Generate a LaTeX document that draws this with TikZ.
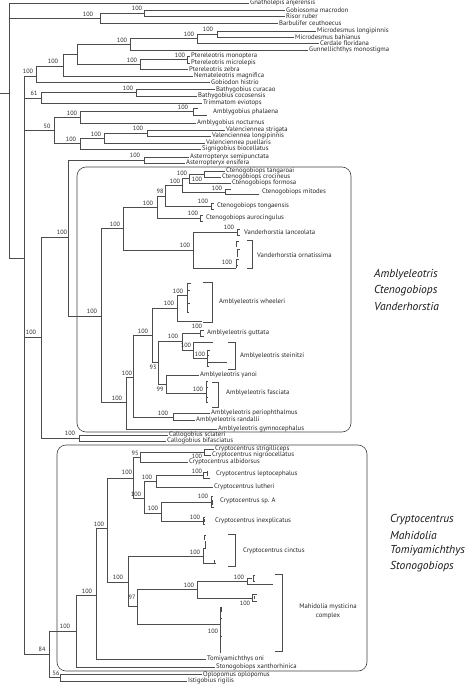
\documentclass[tikz,border=0pt]{standalone}
\usepackage{fontspec}
\setmainfont{PT Sans}
\newcommand\kid[2]{\draw[br] (#1 |- #2) -- (#2);}
\newcommand\vspan[3]{\draw[br] (#1 |- #2) -- (#1 |- #3);}
\begin{document}
\begin{tikzpicture}[x=1pt,y=-1pt,
  br/.style={draw=black!70,line width=0.55pt},
  tip/.style={anchor=west,inner sep=1pt,font=\fontsize{6.7}{7.5}\selectfont,text=black!85},
  ctr/.style={inner sep=0pt,font=\fontsize{6.7}{7.5}\selectfont,text=black!85},
  sup/.style={inner sep=0pt,font=\fontsize{6.2}{7}\selectfont,text=black!85},
  grp/.style={anchor=west,inner sep=0pt,font=\fontsize{11.5}{13}\selectfont\itshape,text=black!90},
  grpbox/.style={draw=black!75,line width=0.6pt,rounded corners=9pt}]
\useasboundingbox (0,0) rectangle (474,685);
% ---------- boxes ----------
\draw[grpbox] (77,167) rectangle (351,432);
\draw[grpbox] (57,445) rectangle (367,671);
\node[grp] (l1) at (374,275) {Amblyeleotris};
\node[grp] (l2) at (374,291) {Ctenogobiops};
\node[grp] (l3) at (374,306) {Vanderhorstia};
\node[grp] (l4) at (390,520) {Cryptocentrus};
\node[grp] (l5) at (390,535.5) {Mahidolia};
\node[grp] (l6) at (390,551) {Tomiyamichthys};
\node[grp] (l7) at (390,566.5) {Stonogobiops};
% ---------- root ----------
\coordinate (r0) at (0,93);
\coordinate (r) at (9,93);
\draw[br] (r0) -- (r);
\node[tip] (tGn) at (249,3) {Gnatholepis anjerensis};
\coordinate (g1) at (100,18);
\coordinate (g2) at (144,13);
\node[tip] (tGo) at (285,10) {Gobiosoma macrodon};
\node[tip] (tRi) at (285,16) {Risor ruber};
\node[tip] (tBa) at (278,23) {Barbulifer ceuthoecus};
\coordinate (ing) at (24,258);
\vspan{r}{tGn.west}{ing} \kid{r}{tGn.west} \kid{r}{g1} \kid{r}{ing}
\vspan{g1}{g2}{tBa.west} \kid{g1}{g2} \kid{g1}{tBa.west}
\vspan{g2}{tGo.west}{tRi.west} \kid{g2}{tGo.west} \kid{g2}{tRi.west}
\node[sup] (s1) at (88,14) {100};
\node[sup] (s2) at (137,8) {100};
% ---------- ingroup ----------
\coordinate (nA) at (36,76);
\coordinate (n61) at (41,98);
\coordinate (n50) at (54,130);
\coordinate (n41) at (41,337);
\coordinate (n84) at (49,654);
\vspan{ing}{nA}{n84} \kid{ing}{nA} \kid{ing}{n61} \kid{ing}{n50} \kid{ing}{n41} \kid{ing}{n84}
\node[sup] (sA) at (28,71) {100};
\node[sup] (s61) at (34,93) {61};
\node[sup] (s50) at (47,126) {50};
\node[sup] (s41) at (31,332) {100};
\node[sup] (s84) at (42,649) {84};
% clade A
\coordinate (nB) at (63,66);
\coordinate (nC) at (77,54);
\coordinate (nD) at (130,44);
\coordinate (nE) at (197,38.5);
\coordinate (nF) at (217,34.5);
\coordinate (nP1) at (140,64);
\coordinate (nP2) at (187,59.5);
\node[tip] (tMl) at (316,31) {Microdesmus longipinnis};
\node[tip] (tMb) at (294,37.5) {Microdesmus bahianus};
\node[tip] (tCe) at (319,43.5) {Cerdale floridana};
\node[tip] (tGu) at (308,50) {Gunnellichthys monostigma};
\node[tip] (tPm) at (190,56) {Ptereleotris monoptera};
\node[tip] (tPmi) at (190,63) {Ptereleotris microlepis};
\node[tip] (tPz) at (188,69) {Ptereleotris zebra};
\node[tip] (tNe) at (193,76) {Nemateleotris magnifica};
\node[tip] (tGob) at (210,82.5) {Gobiodon histrio};
\vspan{nA}{nB}{tGob.west} \kid{nA}{nB} \kid{nA}{tGob.west}
\vspan{nB}{nC}{tNe.west} \kid{nB}{nC} \kid{nB}{tNe.west}
\vspan{nC}{nD}{nP1} \kid{nC}{nD} \kid{nC}{nP1}
\vspan{nD}{nE}{tGu.west} \kid{nD}{nE} \kid{nD}{tGu.west}
\vspan{nE}{nF}{tCe.west} \kid{nE}{nF} \kid{nE}{tCe.west}
\vspan{nF}{tMl.west}{tMb.west} \kid{nF}{tMl.west} \kid{nF}{tMb.west}
\vspan{nP1}{nP2}{tPz.west} \kid{nP1}{nP2} \kid{nP1}{tPz.west}
\vspan{nP2}{tPm.west}{tPmi.west} \kid{nP2}{tPm.west} \kid{nP2}{tPmi.west}
\node[sup] (sB) at (53,61) {100};
\node[sup] (sD) at (122,40) {100};
\node[sup] (sE) at (189,34) {100};
\node[sup] (sF) at (208,29.5) {100};
\node[sup] (sP1) at (132,60) {100};
\node[sup] (sP2) at (180,55.5) {100};
% clade 61
\coordinate (nBat) at (136,92.5);
\node[tip] (tBc) at (215,89.5) {Bathygobius curacao};
\node[tip] (tBco) at (197,96) {Bathygobius cocosensis};
\node[tip] (tTr) at (202,103) {Trimmatom eviotops};
\vspan{n61}{nBat}{tTr.west} \kid{n61}{nBat} \kid{n61}{tTr.west}
\vspan{nBat}{tBc.west}{tBco.west} \kid{nBat}{tBc.west} \kid{nBat}{tBco.west}
\node[sup] (sBat) at (128,88) {100};
% clade 50
\coordinate (nAmb) at (80,117);
\coordinate (nAph) at (193,111.5);
\coordinate (ap1) at (198,108);
\coordinate (ap2) at (207,115);
\node[tip] (tAph) at (212,112) {Amblygobius phalaena};
\node[tip] (tNoc) at (196,123) {Amblygobius nocturnus};
\coordinate (nVal) at (80,143.5);
\coordinate (nV2) at (104,138);
\coordinate (nV3) at (147,133);
\node[tip] (tVs) at (225,130) {Valenciennea strigata};
\node[tip] (tVl) at (211,136) {Valenciennea longipinnis};
\node[tip] (tVp) at (205,143) {Valenciennea puellaris};
\node[tip] (tSig) at (201,149) {Signigobius biocellatus};
\vspan{n50}{nAmb}{nVal} \kid{n50}{nAmb} \kid{n50}{nVal}
\vspan{nAmb}{nAph}{tNoc.west} \kid{nAmb}{nAph} \kid{nAmb}{tNoc.west}
\vspan{nAph}{ap1}{ap2} \kid{nAph}{ap1} \kid{nAph}{ap2}
\vspan{nVal}{nV2}{tSig.west} \kid{nVal}{nV2} \kid{nVal}{tSig.west}
\vspan{nV2}{nV3}{tVp.west} \kid{nV2}{nV3} \kid{nV2}{tVp.west}
\vspan{nV3}{tVs.west}{tVl.west} \kid{nV3}{tVs.west} \kid{nV3}{tVl.west}
\node[sup] (sAmb) at (72,113) {100};
\node[sup] (sAph) at (183,107) {100};
\node[sup] (sVal) at (71,139) {100};
\node[sup] (sV2) at (96,134) {100};
\node[sup] (sV3) at (138,128.5) {100};
% clade 41
\coordinate (n68) at (68,237);
\coordinate (nAst) at (144,160);
\node[tip] (tAs) at (189,157) {Asterropteryx semipunctata};
\node[tip] (tAe) at (185,163) {Asterropteryx ensifera};
\coordinate (n101) at (101,316);
\coordinate (nCal) at (79,438);
\node[tip] (tCs) at (168,435) {Callogobius sclateri};
\node[tip] (tCb) at (166,441) {Callogobius bifasciatus};
\vspan{n41}{n68}{nCal} \kid{n41}{n68} \kid{n41}{nCal}
\vspan{n68}{nAst}{n101} \kid{n68}{nAst} \kid{n68}{n101}
\vspan{nAst}{tAs.west}{tAe.west} \kid{nAst}{tAs.west} \kid{nAst}{tAe.west}
\vspan{nCal}{tCs.west}{tCb.west} \kid{nCal}{tCs.west} \kid{nCal}{tCb.west}
\node[sup] (s68) at (62,232) {100};
\node[sup] (sAst) at (135,155) {100};
\node[sup] (s101) at (92,311) {100};
\node[sup] (sCal) at (70,433.5) {100};
% ---------- box 1 ----------
\coordinate (n123) at (123,228);
\coordinate (n126) at (126,402);
\coordinate (n157) at (157,207);
\coordinate (n165) at (165,196);
\coordinate (n182) at (182,185);
\coordinate (n189) at (189,178);
\coordinate (n204) at (204,174);
\node[tip] (tTan) at (225,171) {Ctenogobiops tangaroai};
\node[tip] (tCro) at (221,177) {Ctenogobiops crocineus};
\node[tip] (tFor) at (231,183) {Ctenogobiops formosa};
\coordinate (nMit) at (225,192);
\coordinate (mi1) at (231,189.5);
\coordinate (mi2) at (259,194.5);
\node[tip] (tMit) at (261,192) {Ctenogobiops mitodes};
\coordinate (nTon) at (211,206);
\coordinate (to1) at (214,203);
\coordinate (to2) at (214,209);
\node[tip] (tTon) at (216,206) {Ctenogobiops tongaensis};
\coordinate (nAur) at (200,218);
\coordinate (au1) at (203,215);
\coordinate (au2) at (203,221);
\node[tip] (tAur) at (205,218) {Ctenogobiops aurocingulus};
\coordinate (nVan) at (193,250);
\coordinate (nLan) at (237,232);
\coordinate (la1) at (240,229);
\coordinate (la2) at (240,235);
\node[tip] (tLan) at (243,232) {Vanderhorstia lanceolata};
\coordinate (nOrn) at (236,268);
\node[tip] (tOrn) at (256,255) {Vanderhorstia ornatissima};
\vspan{n101}{n123}{n126} \kid{n101}{n123} \kid{n101}{n126}
\vspan{n123}{n157}{nVan} \kid{n123}{n157} \kid{n123}{nVan}
\vspan{n157}{n165}{nAur} \kid{n157}{n165} \kid{n157}{nAur}
\vspan{n165}{n182}{nTon} \kid{n165}{n182} \kid{n165}{nTon}
\vspan{n182}{n189}{nMit} \kid{n182}{n189} \kid{n182}{nMit}
\vspan{n189}{n204}{tFor.west} \kid{n189}{n204} \kid{n189}{tFor.west}
\vspan{n204}{tTan.west}{tCro.west} \kid{n204}{tTan.west} \kid{n204}{tCro.west}
\vspan{nMit}{mi1}{mi2} \kid{nMit}{mi1} \kid{nMit}{mi2}
\vspan{nTon}{to1}{to2} \kid{nTon}{to1} \kid{nTon}{to2}
\vspan{nAur}{au1}{au2} \kid{nAur}{au1} \kid{nAur}{au2}
\vspan{nVan}{nLan}{nOrn} \kid{nVan}{nLan} \kid{nVan}{nOrn}
\vspan{nLan}{la1}{la2} \kid{nLan}{la1} \kid{nLan}{la2}
\draw[br] (nOrn) -- (236,259) (237,257) -- (237,249) (236,247) -- (236,241)
  (236,241) -- (239,241) (237,249) -- (240,249) (236,259) -- (239,259) (236,265) -- (238,265);
\draw[br] (247,240) -- (252,240) -- (252,268) -- (247,268);
\node[sup] (s123) at (115,224) {100};
\node[sup] (s157) at (148,203) {100};
\node[sup] (s165) at (160,191.5) {98};
\node[sup] (s182) at (175,181) {100};
\node[sup] (s189) at (182,173.5) {100};
\node[sup] (s204) at (197,179.5) {100};
\node[sup] (sMit) at (217,188.5) {100};
\node[sup] (sTon) at (203,201.5) {100};
\node[sup] (sAur) at (193,213.5) {100};
\node[sup] (sVan) at (185,245.5) {100};
\node[sup] (sLan) at (229,227.5) {100};
\node[sup] (sOrn) at (227,262.5) {100};
% Amblyeleotris
\coordinate (n133) at (133,377);
\coordinate (n152) at (152,335);
\coordinate (nWh) at (177,308);
\coordinate (nWh2) at (187,295);
\coordinate (wh2) at (202,321);
\node[tip] (tWh) at (218,302) {Amblyeleotris wheeleri};
\coordinate (n158) at (158,362);
\coordinate (n182b) at (182,341);
\coordinate (nGut) at (200,333);
\coordinate (gu1) at (204,330);
\coordinate (gu2) at (204,336);
\node[tip] (tGut) at (206,333) {Amblyeleotris guttata};
\coordinate (nSte) at (193,350);
\coordinate (st1) at (213,342);
\coordinate (nSte2) at (207,358);
\node[tip] (tSte) at (239,356) {Amblyeleotris steinitzi};
\coordinate (n166) at (166,384);
\node[tip] (tYan) at (199,375) {Amblyeleotris yanoi};
\coordinate (nFas) at (206,393);
\node[tip] (tFas) at (225,393) {Amblyeleotris fasciata};
\coordinate (nPer) at (173,417);
\node[tip] (tPer) at (210,413) {Amblyeleotris periophthalmus};
\node[tip] (tRan) at (195,420) {Amblyeleotris randalli};
\node[tip] (tGym) at (217,429) {Amblyeleotris gymnocephalus};
\vspan{n126}{n133}{tGym.west} \kid{n126}{n133} \kid{n126}{tGym.west}
\vspan{n133}{n152}{nPer} \kid{n133}{n152} \kid{n133}{nPer}
\vspan{n152}{nWh}{n158} \kid{n152}{nWh} \kid{n152}{n158}
\vspan{nWh}{nWh2}{wh2} \kid{nWh}{nWh2} \kid{nWh}{wh2}
\draw[br] (187,283) -- (187,312) (187,283) -- (191,283) (187,290) -- (190,290)
  (187,303) -- (190,303) (187,312) -- (189,312);
\draw[br] (203,282) -- (212,282) -- (212,322) -- (203,322);
\vspan{n158}{n182b}{n166} \kid{n158}{n182b} \kid{n158}{n166}
\vspan{n182b}{nGut}{nSte} \kid{n182b}{nGut} \kid{n182b}{nSte}
\vspan{nGut}{gu1}{gu2} \kid{nGut}{gu1} \kid{nGut}{gu2}
\vspan{nSte}{st1}{nSte2} \kid{nSte}{st1} \kid{nSte}{nSte2}
\draw[br] (207,350) -- (207,366) (207,350) -- (210,350) (207,355) -- (209,355)
  (207,366) -- (209,366) (207,362) -- (227,362);
\draw[br] (228,342) -- (235,342) -- (235,369) -- (228,369);
\vspan{n166}{tYan.west}{nFas} \kid{n166}{tYan.west} \kid{n166}{nFas}
\draw[br] (206,381) -- (206,402) (206,381) -- (208,381) (206,387) -- (208,387)
  (206,397) -- (208,397) (206,402) -- (208,402);
\draw[br] (212,382) -- (218,382) -- (218,407) -- (212,407);
\vspan{nPer}{tPer.west}{tRan.west} \kid{nPer}{tPer.west} \kid{nPer}{tRan.west}
\node[sup] (s126) at (117,398) {100};
\node[sup] (s133) at (127,373) {100};
\node[sup] (s152) at (143,331) {100};
\node[sup] (sWh) at (169,303.5) {100};
\node[sup] (sWh2) at (178,291) {100};
\node[sup] (s158) at (153,367) {93};
\node[sup] (s182b) at (173,336.5) {100};
\node[sup] (sGut) at (197,326.5) {100};
\node[sup] (sSte) at (186,345) {100};
\node[sup] (sSte2) at (200,354) {100};
\node[sup] (s166) at (160,389) {99};
\node[sup] (sFas) at (198,389) {100};
\node[sup] (sPer) at (163,413) {100};
% ---------- clade 84 ----------
\coordinate (n76) at (76,631);
\coordinate (nOpl) at (60,677.5);
\coordinate (n96) at (96,595);
\node[tip] (tSto) at (215,667) {Stonogobiops xanthorhinica};
\node[tip] (tOni) at (206,659) {Tomiyamichthys oni};
\node[tip] (tOo) at (202,674.5) {Oplopomus oplopomus};
\node[tip] (tIr) at (187,681) {Istigobius rigilis};
\vspan{n84}{n76}{nOpl} \kid{n84}{n76} \kid{n84}{nOpl}
\vspan{n76}{n96}{tSto.west} \kid{n76}{n96} \kid{n76}{tSto.west}
\vspan{nOpl}{tOo.west}{tIr.west} \kid{nOpl}{tOo.west} \kid{nOpl}{tIr.west}
\coordinate (n107) at (107,528);
\vspan{n96}{n107}{tOni.west} \kid{n96}{n107} \kid{n96}{tOni.west}
\node[sup] (s76) at (65,626.5) {100};
\node[sup] (sOpl) at (56,673) {56};
\node[sup] (s96) at (87,591) {100};
\node[sup] (s107) at (99,524) {100};
% ---------- box 2 ----------
\coordinate (n133c) at (133,478);
\coordinate (n140) at (140,457);
\coordinate (n204c) at (204,452);
\node[tip] (tStr) at (214,449) {Cryptocentrus strigilliceps};
\node[tip] (tNig) at (211,455) {Cryptocentrus nigroocellatus};
\node[tip] (tAlb) at (188,462) {Cryptocentrus albidorsus};
\coordinate (n144) at (144,498);
\coordinate (n156) at (156,481);
\coordinate (nLep) at (203,475);
\coordinate (le1) at (207,472);
\coordinate (le2) at (210,478);
\node[tip] (tLep) at (215,474) {Cryptocentrus leptocephalus};
\node[tip] (tLut) at (213,487) {Cryptocentrus lutheri};
\coordinate (n161) at (161,513);
\coordinate (nSpa) at (211,502);
\node[tip] (tSpa) at (219,501) {Cryptocentrus sp. A};
\coordinate (nInx) at (203,521);
\node[tip] (tInx) at (214,521) {Cryptocentrus inexplicatus};
\coordinate (n128) at (128,582);
\coordinate (nCin) at (203,556);
\node[tip] (tCin) at (242,551) {Cryptocentrus cinctus};
\coordinate (n137) at (137,606);
\coordinate (n197) at (197,589.5);
\coordinate (n247) at (247,581);
\coordinate (n252) at (252,598);
\coordinate (mah) at (220,624);
\node[ctr] (tMah1) at (328,607) {Mahidolia mysticina};
\node[ctr] (tMah2) at (328,616) {complex};
\vspan{n107}{n133c}{n128} \kid{n107}{n133c} \kid{n107}{n128}
\vspan{n133c}{n140}{n144} \kid{n133c}{n140} \kid{n133c}{n144}
\vspan{n140}{n204c}{tAlb.west} \kid{n140}{n204c} \kid{n140}{tAlb.west}
\vspan{n204c}{tStr.west}{tNig.west} \kid{n204c}{tStr.west} \kid{n204c}{tNig.west}
\vspan{n144}{n156}{n161} \kid{n144}{n156} \kid{n144}{n161}
\vspan{n156}{nLep}{tLut.west} \kid{n156}{nLep} \kid{n156}{tLut.west}
\vspan{nLep}{le1}{le2} \kid{nLep}{le1} \kid{nLep}{le2}
\draw[br] (207,471) -- (207,476);
\vspan{n161}{nSpa}{nInx} \kid{n161}{nSpa} \kid{n161}{nInx}
\draw[br] (211,496) -- (211,507) (211,496) -- (213,496) (212,500) -- (212,505) (211,507) -- (214,507);
\draw[br] (203,517) -- (203,524) (203,517) -- (205,517) (203,524) -- (205,524) (204,519) -- (204,522);
\vspan{n128}{nCin}{n137} \kid{n128}{nCin} \kid{n128}{n137}
\draw[br] (203,548) -- (203,563) -- (214,563) (214,560) -- (214,563) -- (216,563)
  (203,548) -- (205,548) -- (205,541) (204,540) -- (204,535) (204,535) -- (206,535);
\draw[br] (228,534) -- (235,534) -- (235,566) -- (228,566);
\vspan{n137}{n197}{mah} \kid{n137}{n197} \kid{n137}{mah}
\vspan{n197}{n247}{n252} \kid{n197}{n247} \kid{n197}{n252}
\draw[br] (247,578) -- (247,584) (247,578) -- (252,578) (255,575) -- (253,575) -- (253,581) -- (255,581)
  (247,584) -- (273,584);
\draw[br] (252,594) -- (252,601) (252,594) -- (257,594) (252,601) -- (257,601) (254,596) -- (254,599);
\draw[br] (220,607) -- (220,653) (221,607) -- (221,612) (220,618) -- (222,618) (220,636) -- (222,636);
\draw[br] (275,574) -- (282,574) -- (282,651) -- (275,651);
\node[sup] (s133c) at (127,472.5) {100};
\node[sup] (s140) at (135,453) {95};
\node[sup] (s204c) at (197,456) {100};
\node[sup] (s144) at (136,494) {100};
\node[sup] (s156) at (147,477.5) {100};
\node[sup] (sLep) at (197,471) {100};
\node[sup] (s161) at (153,508) {100};
\node[sup] (sSpa) at (203,496) {100};
\node[sup] (sInx) at (195,517.5) {100};
\node[sup] (s128) at (118,577.5) {100};
\node[sup] (sCin) at (195,552) {100};
\node[sup] (s137) at (132,597) {97};
\node[sup] (s197) at (189,585) {100};
\node[sup] (s247) at (239,577) {100};
\node[sup] (s252) at (245,603) {100};
\node[sup] (sMah) at (213,631) {100};
\end{tikzpicture}
\end{document}
